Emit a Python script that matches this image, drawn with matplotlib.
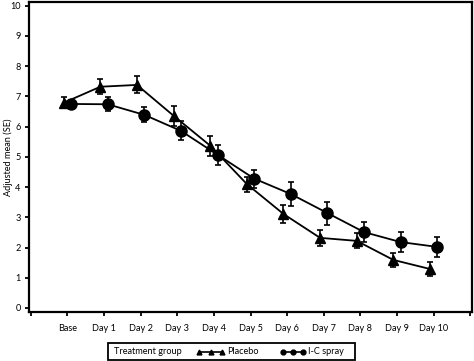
import matplotlib
matplotlib.use("Agg")
from matplotlib import pyplot as plt
from matplotlib.lines import Line2D
from matplotlib.patches import Rectangle
import numpy as np

plt.rcParams['font.family'] = ['Lato', 'DejaVu Sans']

days = ['Base', 'Day 1', 'Day 2', 'Day 3', 'Day 4', 'Day 5',
        'Day 6', 'Day 7', 'Day 8', 'Day 9', 'Day 10']
placebo = [6.79, 7.32, 7.38, 6.36, 5.37, 4.10, 3.11, 2.32, 2.22, 1.59, 1.29]
placebo_se = [0.18, 0.25, 0.28, 0.33, 0.33, 0.25, 0.31, 0.26, 0.25, 0.24, 0.23]
icspray = [6.75, 6.74, 6.39, 5.86, 5.07, 4.28, 3.77, 3.14, 2.51, 2.18, 2.02]
icspray_se = [0.12, 0.23, 0.25, 0.31, 0.33, 0.30, 0.40, 0.38, 0.33, 0.33, 0.33]

W, H = 474, 361
fs = 6.6
fig = plt.figure(figsize=(W / 100, H / 100), dpi=100)
ax = fig.add_axes([0.061, 0.136, 0.935, 0.859])

x = np.arange(1, len(days) + 1)
ax.errorbar(x - 0.1, placebo, yerr=placebo_se, color='black', marker='^',
            markersize=7, lw=1.3, elinewidth=1.2, capsize=2.2, capthick=1.2)
ax.errorbar(x + 0.1, icspray, yerr=icspray_se, color='black', marker='o',
            markersize=8, lw=1.3, elinewidth=1.2, capsize=2.2, capthick=1.2)

ax.set_xlim(-0.05, 12.05)
ax.set_ylim(-0.13, 10.13)
ax.set_xticks(np.arange(0, 13))
ax.set_xticklabels([''] + days + [''])
ax.set_yticks(np.arange(0, 11))
ax.tick_params(direction='out', length=3, width=1.3, labelsize=fs, colors='black')
ax.tick_params(axis='x', pad=6)
ax.tick_params(axis='y', pad=3)
for s in ax.spines.values():
    s.set_linewidth(1.6)
ax.set_ylabel('Adjusted mean (SE)', fontsize=fs)
ax.yaxis.set_label_coords(-0.036, 0.5)

# legend box drawn by hand (pixel positions -> figure fractions)
def fx(px):
    return px / W

def fy(py):
    return 1 - py / H

fig.patches.append(Rectangle((fx(108), fy(360)), fx(355) - fx(108), fy(343) - fy(360),
                             transform=fig.transFigure, fill=False,
                             edgecolor='black', lw=1.3))
ty = fy(351.5)
fig.text(fx(114), ty, 'Treatment group', fontsize=fs, va='center')
fig.lines.append(Line2D([fx(199), fx(210.5), fx(222)], [ty, ty, ty],
                        transform=fig.transFigure, color='black', marker='^',
                        markersize=3.5, lw=1.2))
fig.text(fx(227), ty, 'Placebo', fontsize=fs, va='center')
fig.lines.append(Line2D([fx(283), fx(293), fx(303)], [ty, ty, ty],
                        transform=fig.transFigure, color='black', marker='o',
                        markersize=3.5, lw=1.2))
fig.text(fx(308), ty, 'I-C spray', fontsize=fs, va='center')

fig.savefig('out.png', dpi=100)
